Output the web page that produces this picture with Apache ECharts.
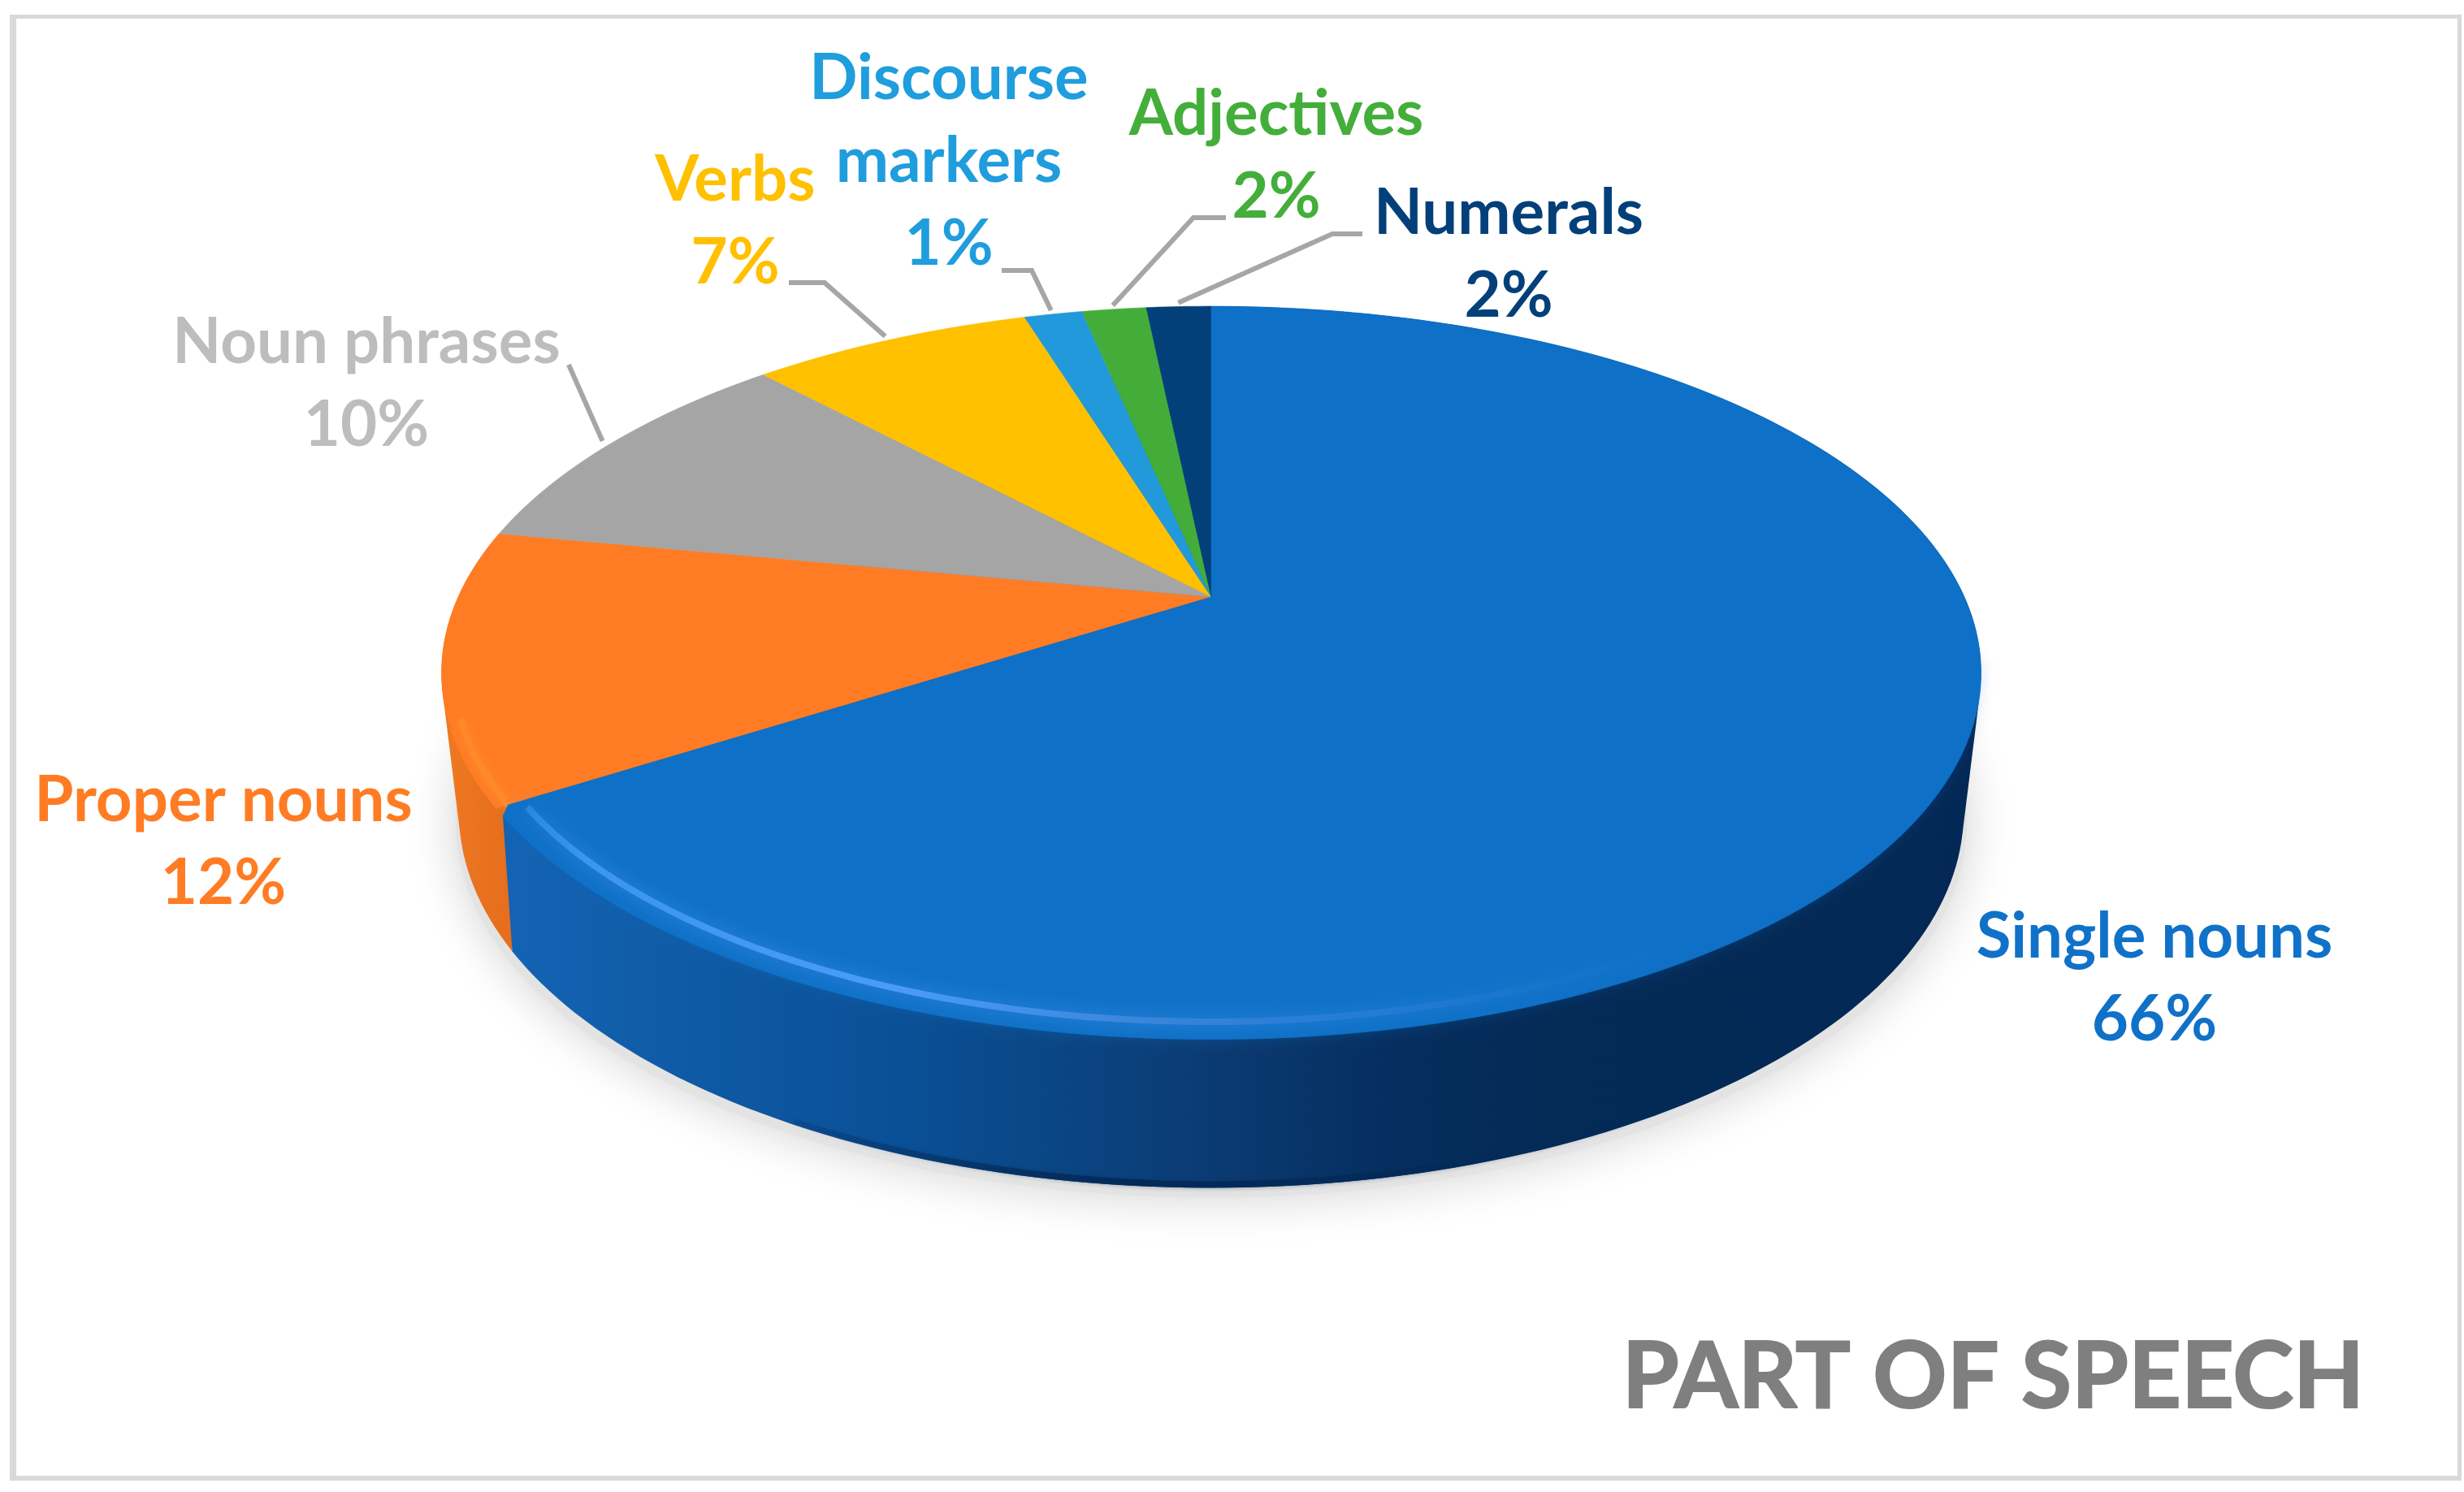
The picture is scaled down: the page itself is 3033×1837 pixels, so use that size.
<!DOCTYPE html>
<html><head><meta charset="utf-8">
<style>html,body{margin:0;padding:0;background:#fff}#c{width:3033px;height:1837px}</style>
<script src="https://cdn.jsdelivr.net/npm/echarts@6/dist/echarts.min.js"></script>
</head><body><div id="c"></div>
<script>
const categories = ['Single nouns','Proper nouns','Noun phrases','Verbs','Discourse\nmarkers','Adjectives','Numerals'];
const values = [66, 12, 10, 7.2, 1.49, 1.65, 1.66];
const titleText = 'PART OF SPEECH';

const faceColors  = ['#0E70C6','#FF7C24','#A5A5A5','#FFC000','#2299DA','#44AD3A','#03407A'];
const labelColors = ['#1071C8','#FF7C24','#BDBDBD','#FFC000','#1F9DDD','#44AE3B','#03407A'];
const labelCenters = [[2652,1205],[275,1037],[451,473],[905,273],[1168,199],[1571,192],[1857,314]];
const leaderElbows = [null,null,[[700,449]],[[971,348],[1015,348]],[[1233,333],[1270,333]],[[1509,268],[1469,268]],[[1677,288],[1640,288]]];

const FONT = 'Lato';
const LABEL_SIZE = 78, LINE_H = 102;
const C = -0.207;
const topMap = {x:1491, y:735, A:432, B:927};
const botMap = {x:1491, y:905, A:442, B:906};
const total = values.reduce((a,b)=>a+b,0);
function pt(m, r, deg){
  const t = deg*Math.PI/180, u = r*Math.sin(t), v = -r*Math.cos(t), d = 1 + C*v;
  return [m.x + m.B*u/d, m.y + m.A*v/d];
}
function arc(m, r, a, b){
  const n = Math.max(2, Math.ceil(Math.abs(b-a)/1.2)), p = [];
  for(let i=0;i<=n;i++) p.push(pt(m, r, a+(b-a)*i/n));
  return p;
}
function hull(points){
  const s = points.slice().sort((a,b)=>a[0]-b[0]||a[1]-b[1]);
  const cr = (o,a,b)=>(a[0]-o[0])*(b[1]-o[1])-(a[1]-o[1])*(b[0]-o[0]);
  const lo=[],up=[];
  for(const p of s){while(lo.length>1&&cr(lo[lo.length-2],lo[lo.length-1],p)<=0)lo.pop();lo.push(p);}
  for(const p of s.slice().reverse()){while(up.length>1&&cr(up[up.length-2],up[up.length-1],p)<=0)up.pop();up.push(p);}
  lo.pop();up.pop();return lo.concat(up);
}
function grad(x,x2,stops){
  return {type:'linear',x:x,y:0,x2:x2,y2:0,global:true,
    colorStops:stops.map(s=>({offset:(s[0]-x)/(x2-x),color:s[1]}))};
}
const sideFill = [
  grad(600,2440,[[600,'#1464B6'],[800,'#105CA8'],[1100,'#0A5097'],[1300,'#0A4684'],[1500,'#0B3A72'],[1700,'#052F60'],[1900,'#042A56'],[2440,'#032855']]),
  grad(540,650,[[540,'#F07A22'],[600,'#E8711E'],[650,'#E46C1B']])
];
const hiFill = [
  grad(640,2100,[[640,'rgba(60,150,240,0.5)'],[720,'#3C95F0'],[1100,'#4A9CF8'],[1400,'#3A86DA'],[1750,'rgba(40,125,215,0.6)'],[2100,'rgba(20,112,198,0)']]),
  grad(540,640,[[540,'rgba(255,140,40,0.5)'],[600,'#FF8A2A'],[640,'#FF8A2A']])
];
function cum(i){let s=0;for(let k=0;k<i;k++)s+=values[k];return s/total*360;}

function renderSlice(params, api){
  const i = params.dataIndex, a = cum(i), b = a + api.value(0)/total*360, mid=(a+b)/2;
  const trim = i===0 ? 1.2 : 0;
  const kids = [];
  if(i<2){
    kids.push({type:'polygon',z2:2-i,shape:{points:hull(arc(topMap,1,a,b-trim).concat(arc(botMap,1,a,b)))},style:{fill:sideFill[i]}});
  }
  const face = [[topMap.x,topMap.y]].concat(arc(topMap,1,a,b-trim));
  if(trim) face.push(pt(topMap,0.985,b));
  kids.push({type:'polygon',z2:i===0?6:5,shape:{points:face},style:{fill:faceColors[i],stroke:faceColors[i],lineWidth:0.6}});
  if(i===0){
    kids.push({type:'polyline',z2:7,shape:{points:arc(topMap,0.99,100,b-1.5)},style:{fill:null,stroke:faceColors[0],lineWidth:4,shadowBlur:20,shadowColor:faceColors[0]}});
    kids.push({type:'polyline',z2:8,shape:{points:arc(topMap,0.968,120,b-1)},style:{fill:null,stroke:hiFill[0],lineWidth:8,shadowBlur:22,shadowColor:'rgba(70,150,240,0.75)'}});
    kids.push({type:'polyline',z2:3,shape:{points:arc({x:botMap.x,y:botMap.y-4,A:botMap.A,B:botMap.B},1,b-30,70)},
      style:{fill:null,stroke:grad(900,2100,[[900,'rgba(3,42,88,0)'],[1400,'#032A58'],[1700,'#032A58'],[2100,'rgba(3,42,88,0)']]),lineWidth:8,shadowBlur:6,shadowColor:'rgba(3,42,88,0.4)'}});
  }
  if(i===1){
    kids.push({type:'polyline',z2:5,shape:{points:arc(topMap,0.985,a-1,b-30)},style:{fill:null,stroke:hiFill[1],lineWidth:8,shadowBlur:12,shadowColor:'rgba(255,145,45,0.8)'}});
  }
  if(leaderElbows[i]){
    const end = pt(topMap,1.016,mid);
    kids.push({type:'polyline',z2:9,shape:{points:leaderElbows[i].concat([end])},style:{fill:null,stroke:'#A6A6A6',lineWidth:6,lineJoin:'miter'}});
  }
  const name = categories[i], lc = labelCenters[i];
  kids.push({type:'text',z2:10,style:{x:lc[0],y:lc[1],text:name+'\n'+Math.round(api.value(0))+'%',
    fill:labelColors[i],align:'center',verticalAlign:'middle',lineHeight:LINE_H,
    fontFamily:FONT,fontWeight:'bold',fontSize:LABEL_SIZE}});
  return {type:'group',children:kids};
}
function renderShadow(){
  const s = {x:botMap.x,y:botMap.y+12,A:botMap.A,B:botMap.B+4};
  return {type:'polygon',shape:{points:arc(s,1,0,360)},style:{fill:'#E3E3E3',shadowBlur:60,shadowColor:'#D2D2D2'}};
}
const chart = echarts.init(document.getElementById('c'),null,{width:3033,height:1837});
const border = '#D9D9D9';
chart.setOption({
  animation:false,backgroundColor:'#fff',
  title:{text:titleText,right:116,top:1635,textStyle:{color:'#7F7F7F',fontFamily:FONT,fontWeight:'bold',fontSize:113,lineHeight:113,textBorderColor:'#7F7F7F',textBorderWidth:2}},
  graphic:[
    {type:'rect',silent:true,shape:{x:12,y:18,width:8,height:1805},style:{fill:border}},
    {type:'rect',silent:true,shape:{x:12,y:18,width:3018,height:5},style:{fill:border}},
    {type:'rect',silent:true,shape:{x:3025,y:18,width:5,height:1805},style:{fill:border}},
    {type:'rect',silent:true,shape:{x:12,y:1817,width:3018,height:6},style:{fill:border}}
  ],
  series:[
    {type:'custom',coordinateSystem:'none',silent:true,z:1,renderItem:renderShadow,data:[0]},
    {type:'custom',coordinateSystem:'none',silent:true,z:2,renderItem:renderSlice,
     data:categories.map((n,i)=>({name:n,value:values[i]}))}
  ]
});
</script></body></html>
